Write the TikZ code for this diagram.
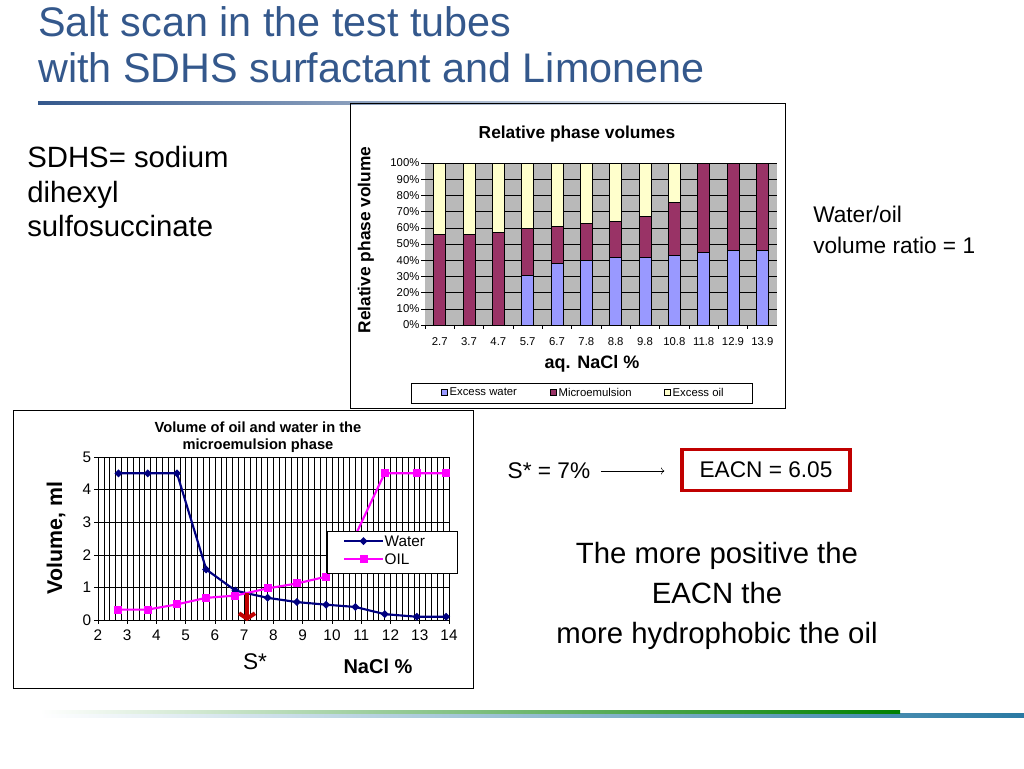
\documentclass[tikz,border=0pt]{standalone}
\usepackage{fontspec}
\setmainfont{Liberation Sans}
\usetikzlibrary{positioning,arrows.meta}
\definecolor{titleblue}{RGB}{52,88,140}
\definecolor{waterbar}{RGB}{153,153,255}
\definecolor{microbar}{RGB}{153,51,102}
\definecolor{oilbar}{RGB}{255,255,204}
\definecolor{waterline}{RGB}{0,0,128}
\definecolor{oilline}{RGB}{255,0,255}
\definecolor{boxred}{RGB}{192,0,0}
\tikzset{
  bar/.style={draw=black, line width=0.4pt},
  tick/.style={font=\fontsize{8.5}{10}\selectfont},
  axnum/.style={font=\fontsize{11.5}{13}\selectfont},
  big/.style={font=\fontsize{22}{26}\selectfont, align=left},
}
\begin{document}
\begin{tikzpicture}[x=0.75pt, y=-0.75pt]
\useasboundingbox (0,0) rectangle (1024,768);

% title
\node[anchor=north west, align=left, text=titleblue, font=\fontsize{31}{35}\selectfont, inner sep=0] (title) at (38,6)
  {Salt scan in the test tubes\\with SDHS surfactant and Limonene};
\shade[left color=titleblue, right color=white] (38,101) rectangle (780,104);

\node[big, anchor=north west, inner sep=0] (sdhs) at (27,146) {SDHS= sodium\\dihexyl\\sulfosuccinate};
\node[anchor=north west, align=left, font=\fontsize{17}{23}\selectfont, inner sep=0] (ratio) at (813,206) {Water/oil\\volume ratio = 1};

% bar chart
\draw (350,103) rectangle (785,408);
\fill[gray!55] (425,163) rectangle (777,325);
\foreach \p in {0,10,...,100}{
  \draw[line width=0.4pt] (421,325-1.62*\p) -- (777,325-1.62*\p);
  \node[tick, anchor=east, inner sep=1pt] at (421,325-1.62*\p) {\p\%};
}
\foreach \i/\lab/\w/\m in {0/2.7/0/56,1/3.7/0/56,2/4.7/0/57,3/5.7/31/60,4/6.7/38/61,5/7.8/40/63,
  6/8.8/42/64,7/9.8/42/67,8/10.8/43/76,9/11.8/45/100,10/12.9/46/100,11/13.9/46/100}{
  \pgfmathsetmacro\cx{425+29.33*\i+14.67}
  \fill[bar, fill=waterbar] (\cx-6,325) rectangle (\cx+6,325-1.62*\w);
  \fill[bar, fill=microbar] (\cx-6,325-1.62*\w) rectangle (\cx+6,325-1.62*\m);
  \fill[bar, fill=oilbar] (\cx-6,325-1.62*\m) rectangle (\cx+6,163);
  \node[tick] at (\cx,342) {\lab};
  \draw (425+29.33*\i,325) -- (425+29.33*\i,329);
}
\draw (425,325) -- (777,325);
\node[font=\bfseries\fontsize{13}{15}\selectfont] (bartitle) at (577,134) {Relative phase volumes};
\node[font=\bfseries\fontsize{13}{15}\selectfont, rotate=90] (barylab) at (366,240) {Relative phase volume};
\node[font=\bfseries\fontsize{13.5}{15}\selectfont] (barxlab) at (592,364) {aq. NaCl \%};
\draw (411,383) rectangle (752,403);
\fill[bar, fill=waterbar] (441,389) rectangle (447,395);
\node[tick, anchor=west, inner sep=1pt] (lgw) at (448,392) {Excess water};
\fill[bar, fill=microbar] (550,389) rectangle (556,395);
\node[tick, anchor=west, inner sep=1pt] (lgm) at (557,392) {Microemulsion};
\fill[bar, fill=oilbar] (664,389) rectangle (670,395);
\node[tick, anchor=west, inner sep=1pt] (lgo) at (671,392) {Excess oil};

% line chart
\draw (13,410) rectangle (473,688);
\foreach \k in {0,...,60}{
  \draw[line width=0.5pt] (98+5.85*\k,457) -- (98+5.85*\k,620);
}
\foreach \v in {0,...,5}{
  \draw (94,620-32.6*\v) -- (449,620-32.6*\v);
  \node[axnum, anchor=east, inner sep=2pt] at (94,620-32.6*\v) {\v};
}
\draw (449,457) -- (449,620);
\foreach \n in {2,...,14}{
  \pgfmathsetmacro\tx{98+29.25*(\n-2)}
  \draw (\tx,620) -- (\tx,624);
  \node[axnum, anchor=north, inner sep=2pt] at (\tx,627) {\n};
}
\draw[waterline, line width=1.6pt] (98+29.25*0.7,620-32.6*4.5)
  \foreach \x/\y in {1.7/4.5,2.7/4.5,3.7/1.55,4.7/0.9,5.8/0.68,6.8/0.55,7.8/0.47,8.8/0.4,9.8/0.18,10.9/0.1,11.9/0.1}{
  -- (98+29.25*\x,620-32.6*\y)};
\foreach \x/\y in {0.7/4.5,1.7/4.5,2.7/4.5,3.7/1.55,4.7/0.9,5.8/0.68,6.8/0.55,7.8/0.47,8.8/0.4,9.8/0.18,10.9/0.1,11.9/0.1}{
  \fill[waterline, shift={(98+29.25*\x,620-32.6*\y)}] (0,-4) -- (4,0) -- (0,4) -- (-4,0) -- cycle;
}
\draw[oilline, line width=1.6pt] (98+29.25*0.7,620-32.6*0.32)
  \foreach \x/\y in {1.7/0.32,2.7/0.48,3.7/0.68,4.7/0.75,5.8/0.97,6.8/1.12,7.8/1.33,8.8/2.6,9.8/4.5,10.9/4.5,11.9/4.5}{
  -- (98+29.25*\x,620-32.6*\y)};
\foreach \x/\y in {0.7/0.32,1.7/0.32,2.7/0.48,3.7/0.68,4.7/0.75,5.8/0.97,6.8/1.12,7.8/1.33,8.8/2.6,9.8/4.5,10.9/4.5,11.9/4.5}{
  \fill[oilline, shift={(98+29.25*\x,620-32.6*\y)}] (-4,-4) rectangle (4,4);
}
\filldraw[fill=white] (327,531) rectangle (457,573);
\draw[waterline, line width=1.6pt] (344,541) -- (383,541);
\fill[waterline] (363.5,537) -- (367.5,541) -- (363.5,545) -- (359.5,541) -- cycle;
\node[axnum, anchor=west, inner sep=1pt] (lgwater) at (383,541) {Water};
\draw[oilline, line width=1.6pt] (344,559) -- (383,559);
\fill[oilline] (359.5,555) rectangle (367.5,563);
\node[axnum, anchor=west, inner sep=1pt] (lgoil) at (383,559) {OIL};
\coordinate (sstartop) at (247,593);
\coordinate (sstarbot) at (247,621);
\draw[boxred, line width=3pt, -{Straight Barb[length=4pt,width=12pt]}] (sstartop) -- (sstarbot);
\node[font=\bfseries\fontsize{11}{13}\selectfont, align=center] (linetitle) at (258,437) {Volume of oil and water in the\\microemulsion phase};
\node[font=\bfseries\fontsize{16}{18}\selectfont, rotate=90] (lineylab) at (56,538) {Volume, ml};
\node[font=\fontsize{17}{19}\selectfont] (sstar) at (255,662) {S*};
\node[font=\bfseries\fontsize{15}{17}\selectfont] (linexlab) at (378,666) {NaCl \%};

% right side
\node[font=\fontsize{17}{20}\selectfont] (sval) at (549,471) {S* = 7\%};
\node[draw=boxred, line width=2.5pt, font=\fontsize{17}{20}\selectfont, minimum width=126pt, minimum height=31pt, inner sep=4pt] (eacn) at (766,470) {EACN = 6.05};
\draw[->] (sval.east) ++(6,0) coordinate (arrs) -- ([xshift=-12pt]eacn.west |- arrs);
\node[font=\fontsize{22}{30}\selectfont, align=center] (concl) at (717,596) {The more positive the\\EACN the\\more hydrophobic the oil};

% footer line
\shade[left color=white, right color=titleblue!80!cyan] (40,713) rectangle (1024,717);
\shade[left color=white, right color=green!50!black] (40,710) rectangle (900,713);
\end{tikzpicture}
\end{document}
